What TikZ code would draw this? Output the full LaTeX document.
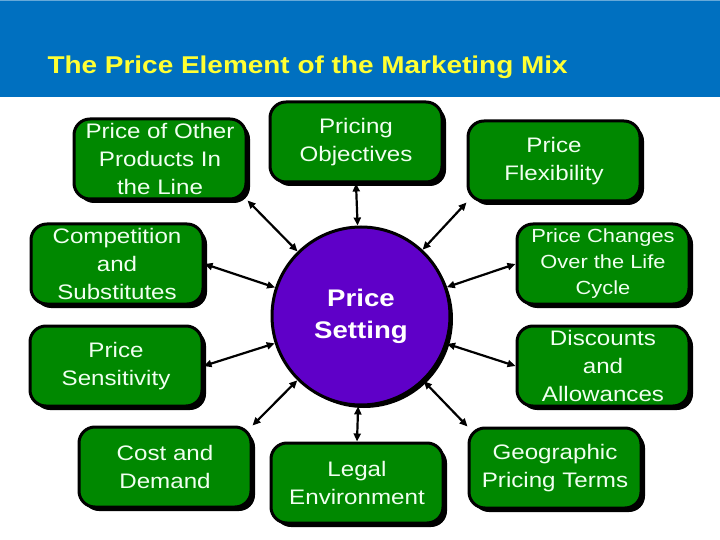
\documentclass[tikz,border=0pt]{standalone}
\usepackage{fontspec}
\setmainfont[FakeStretch=1.15]{Liberation Sans}
\usepackage{tikz}
\usetikzlibrary{arrows.meta,shadows}

\definecolor{bannerblue}{RGB}{0,112,192}
\definecolor{titleyellow}{RGB}{255,255,51}
\definecolor{boxgreen}{RGB}{0,136,0}
\definecolor{setpurple}{RGB}{95,0,200}
\definecolor{textwhite}{RGB}{240,255,240}

\begin{document}
\begin{tikzpicture}[x=1pt,y=-1pt,
                    factornode/.style={rectangle, rounded corners=16pt, draw=black, line width=3pt, fill=boxgreen,
                                       minimum width=172pt, minimum height=80pt, align=center, text=textwhite,
                                       font=\fontsize{21}{28}\selectfont,
                                       drop shadow={shadow xshift=4pt, shadow yshift=-4pt, fill=black, opacity=1}},
                    centernode/.style={circle, draw=black, line width=3pt, fill=setpurple, minimum size=178pt,
                                       align=center, text=white, font=\fontsize{24}{32}\selectfont\bfseries,
                                       drop shadow={shadow xshift=3pt, shadow yshift=-3pt, fill=black, opacity=1}},
                    link/.style={line width=2.2pt, {Triangle[length=8pt,width=7pt]}-{Triangle[length=8pt,width=7pt]}}]
                    \useasboundingbox (0,0) rectangle (720,540);
                    \fill[white] (0,0) rectangle (720,540);
                    \fill[bannerblue] (0,0) rectangle (720,97);
                    \draw[bannerblue!60!white, line width=1pt] (0,0.5) -- (720,0.5);
                    \node[anchor=base west, text=titleyellow, font=\fontsize{24.3}{30}\selectfont\bfseries] (title) at (44,74)
                        {The Price Element of the Marketing Mix};
                    % centre
                    \node[centernode] (0) at (361,316) {Price\\Setting};
                    % surrounding factors
                    \node[factornode] (1) at (160,159) {Price of Other\\Products In\\the Line};
                    \node[factornode] (2) at (356,142) {Pricing\\Objectives};
                    \node[factornode] (3) at (554,161) {Price\\Flexibility};
                    \node[factornode] (4) at (117,264) {Competition\\and\\Substitutes};
                    \node[factornode] (5) at (116,366) {Price\\Sensitivity};
                    \node[factornode] (6) at (165,467) {Cost and\\Demand};
                    \node[factornode] (7) at (357,483) {Legal\\Environment};
                    \node[factornode] (8) at (555,468) {Geographic\\Pricing Terms};
                    \node[factornode, font=\fontsize{19}{26}\selectfont] (9) at (603,264) {Price Changes\\Over the Life\\Cycle};
                    \node[factornode] (10) at (603,366) {Discounts\\and\\Allowances};
                    \draw[link] (0) -- (1.south east);
                    \draw[link] (0) -- (2.south);
                    \draw[link] (0) -- (3.south west);
                    \draw[link] (0) -- (4.east);
                    \draw[link] (0) -- (5.east);
                    \draw[link] (0) -- (6.north east);
                    \draw[link] (0) -- (7.north);
                    \draw[link] (0) -- (8.north west);
                    \draw[link] (0) -- (9.west);
                    \draw[link] (0) -- (10.west);
                \end{tikzpicture}
\end{document}
